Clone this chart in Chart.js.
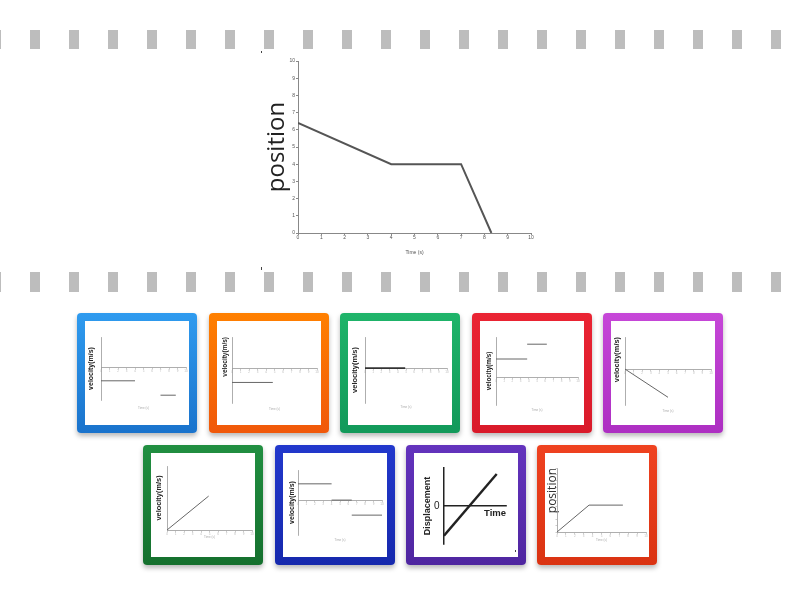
<!DOCTYPE html>
<html><head><meta charset="utf-8">
<script src="https://cdn.jsdelivr.net/npm/chart.js@4.4.1/dist/chart.umd.min.js"></script>
<style>
html,body{margin:0;padding:0;background:#fff;width:800px;height:600px;overflow:hidden;position:relative;}
.sq{position:absolute;width:10px;background:#bdbdbd;}
.tile{position:absolute;width:120px;height:120px;border-radius:4px;box-shadow:0 3px 5px rgba(0,0,0,0.28);}
.tile .inner{position:absolute;left:8px;top:8px;width:104px;height:104px;background:#fff;}
.tile canvas{position:absolute;left:0;top:0;}
.speck{position:absolute;width:1px;background:#444;}
</style></head><body>
<canvas id="main" width="290" height="225" style="position:absolute;left:255px;top:45px"></canvas>
<div class="speck" style="left:261px;top:51px;height:2px"></div>
<div class="speck" style="left:261px;top:267px;height:3px"></div>
<script>
// ---------- data ----------
const mainTimeS = [0, 4, 7, 8.3];
const mainPosition = [6.4, 4, 4, 0];
const mainXTicks = [0, 1, 2, 3, 4, 5, 6, 7, 8, 9, 10];
const mainYTicks = [0, 1, 2, 3, 4, 5, 6, 7, 8, 9, 10];
const miniXTicks = [0, 1, 2, 3, 4, 5, 6, 7, 8, 9, 10];
const miniPosTicks = [0, 1, 2, 3, 4, 5, 6, 7, 8, 9, 10];
const dispTicks = [0];

const tile1Time = [0, 4, 4, 7, 8.8];
const tile1Velocity = [-2.3, -2.3, null, -4.7, -4.7];
const tile2Time = [0, 4.8];
const tile2Velocity = [-2.3, -2.3];
const tile3Time = [0, 4.9];
const tile3Velocity = [0, 0];
const tile4Time = [0, 3.8, 3.8, 3.8, 6.2];
const tile4Velocity = [2.25, 2.25, null, 4.1, 4.1];
const tile5Time = [0, 5];
const tile5Velocity = [0, -4.4];
const tile6Time = [0, 4.9];
const tile6Velocity = [0, 5.3];
const tile7Time = [0, 4, 4, 4, 6.4, 6.4, 6.4, 10];
const tile7Velocity = [2.7, 2.7, null, 0, 0, null, -2.5, -2.5];
const tile8Time = [0, 8.5];
const tile8Displacement = [-3.9, 4.2];
const tile9Time = [0, 3.6, 7.4];
const tile9Position = [0, 4.2, 4.2];

const velLabel = 'velocity(m/s)';

// ---------- layout / style ----------
Chart.defaults.font.family = 'Liberation Sans';

for (let row = 0; row < 2; row++) {
  for (let x = -9; x < 800; x += 39) {
    const d = document.createElement('div');
    d.className = 'sq';
    d.style.left = x + 'px';
    d.style.top = (row === 0 ? 30 : 272) + 'px';
    d.style.height = (row === 0 ? 19 : 20) + 'px';
    document.body.appendChild(d);
  }
}

new Chart(document.getElementById('main'), {
  type: 'line',
  data: { datasets: [{
    data: mainTimeS.map((t, i) => ({ x: t, y: mainPosition[i] })),
    borderColor: '#555', borderWidth: 2, pointRadius: 0, tension: 0
  }]},
  options: {
    responsive: false, animation: false, events: [],
    layout: { padding: { left: 0, top: 16, right: 14, bottom: 0 } },
    plugins: { legend: { display: false }, tooltip: { enabled: false } },
    scales: {
      x: {
        type: 'linear', min: 0, max: 10,
        afterBuildTicks: s => { s.ticks = mainXTicks.map(v => ({ value: v })); },
        afterFit: s => { s.height = 37; },
        grid: { drawOnChartArea: false, tickLength: 2, color: '#888' },
        border: { color: '#888', width: 1 },
        ticks: { font: { size: 5 }, color: '#555', padding: 0, maxRotation: 0, autoSkip: false },
        title: { display: true, text: 'Time (s)', font: { size: 5 }, color: '#555', padding: { top: 0, bottom: 14 } }
      },
      y: {
        type: 'linear', min: 0, max: 10,
        afterBuildTicks: s => { s.ticks = mainYTicks.map(v => ({ value: v })); },
        afterFit: s => { s.width = 43; },
        grid: { drawOnChartArea: false, tickLength: 2, color: '#888' },
        border: { color: '#888', width: 1 },
        ticks: { font: { size: 5 }, color: '#555', padding: 1, autoSkip: false },
        title: { display: true, text: 'position', font: { family: 'Open Sans', size: 24 }, color: '#222', padding: { top: 8, bottom: 0 } }
      }
    }
  }
});

const tiles = [
  { x: 77, y: 313, c: ['#2f9bef', '#1a73cc'], axes: [101, 186, 337, 400], yr: [-5.5, 5], xs: tile1Time, ys: tile1Velocity,
    label: velLabel, lf: { size: 7, weight: 'bold' }, lx: 91, la: 'center', timeY: 408 },
  { x: 209, y: 313, c: ['#ff8000', '#f0580a'], axes: [232, 317, 337, 403], yr: [-5.6, 5], xs: tile2Time, ys: tile2Velocity,
    label: velLabel, lf: { size: 6.5, weight: 'bold' }, lx: 225, la: 'end', timeY: 409 },
  { x: 340, y: 313, c: ['#1fb46a', '#12995a'], axes: [365, 447, 337, 403], yr: [-5.6, 5], xs: tile3Time, ys: tile3Velocity,
    label: velLabel, lf: { size: 7.5, weight: 'bold' }, lx: 355, la: 'center', timeY: 407, lc: '#333', lw: 1.6 },
  { x: 472, y: 313, c: ['#ea2433', '#d91a2a'], axes: [496, 578, 337, 405], yr: [-3.5, 5], xs: tile4Time, ys: tile4Velocity,
    label: velLabel, lf: { size: 6.3, weight: 'bold' }, lx: 489, la: 'center', timeY: 410 },
  { x: 603, y: 313, c: ['#c647d8', '#ad2fc2'], axes: [625, 711, 337, 405], yr: [-5.6, 5], xs: tile5Time, ys: tile5Velocity,
    label: velLabel, lf: { size: 7.4, weight: 'bold' }, lx: 617, la: 'end', timeY: 411 },
  { x: 143, y: 445, c: ['#218f41', '#15702e'], axes: [167, 252, 466, 530], yr: [0, 10], xs: tile6Time, ys: tile6Velocity,
    label: velLabel, lf: { size: 7.4, weight: 'bold' }, lx: 159, la: 'center', timeY: 537 },
  { x: 275, y: 445, c: ['#2238cc', '#1629ad'], axes: [298, 382, 470, 535], yr: [-5.8, 5], xs: tile7Time, ys: tile7Velocity,
    label: velLabel, lf: { size: 7, weight: 'bold' }, lx: 292, la: 'center', timeY: 540 },
  { x: 406, y: 445, c: ['#6333bd', '#4f26a0'], axes: [444, 506, 468, 544], yr: [-5, 5], xs: tile8Time, ys: tile8Displacement,
    label: 'Displacement', lf: { family: 'Liberation Sans', size: 9, weight: 'bold' }, lx: 428, la: 'center',
    disp: true, lc: '#222', lw: 2.4 },
  { x: 537, y: 445, c: ['#ef4220', '#da3312'], axes: [557, 646, 468, 532], yr: [0, 10], xs: tile9Time, ys: tile9Position,
    label: 'position', lf: { family: 'Open Sans', size: 12 }, lx: 551, la: 'end', timeY: 540, yMarks: true, labelColor: '#333' }
];

tiles.forEach(t => {
  const tile = document.createElement('div');
  tile.className = 'tile';
  tile.style.left = t.x + 'px';
  tile.style.top = t.y + 'px';
  tile.style.background = 'linear-gradient(' + t.c[0] + ',' + t.c[1] + ')';
  const inner = document.createElement('div');
  inner.className = 'inner';
  const cv = document.createElement('canvas');
  cv.width = 104; cv.height = 104;
  inner.appendChild(cv); tile.appendChild(inner);
  document.body.appendChild(tile);

  const cl = t.x + 8, ct = t.y + 8, size = 104;
  const [L, R, T, B] = t.axes;
  const yW = L - cl, bottomH = ct + size - B;
  const lfs = t.lf.size, lh = lfs * 1.2;
  const tfs = 3, tlh = tfs * 1.2;
  const axisColor = t.disp ? '#222' : '#999';
  const axisWidth = t.disp ? 1.5 : 0.8;

  new Chart(cv, {
    type: 'line',
    data: { datasets: [{
      data: t.xs.map((v, i) => ({ x: v, y: t.ys[i] })),
      borderColor: t.lc || '#666', borderWidth: t.lw || 1, pointRadius: 0, tension: 0, spanGaps: false
    }]},
    options: {
      responsive: false, animation: false, events: [],
      layout: { padding: { left: 0, top: T - ct, right: cl + size - R, bottom: 0 } },
      plugins: { legend: { display: false }, tooltip: { enabled: false } },
      scales: {
        x: {
          type: 'linear', min: 0, max: 10, position: { y: t.yr[0] >= 0 ? t.yr[0] : 0 },
          afterBuildTicks: s => { s.ticks = miniXTicks.map(v => ({ value: v })); },
          grid: { display: !t.disp, drawOnChartArea: false, drawTicks: !t.disp, tickLength: 1.5, color: '#aaa', lineWidth: 0.6 },
          border: { display: true, color: axisColor, width: axisWidth },
          ticks: { display: !t.disp, font: { size: 3 }, color: '#bbb', padding: 0.5, maxRotation: 0, autoSkip: false },
          title: t.disp
            ? { display: true, text: 'Time', align: 'end', font: { family: 'Liberation Sans', size: 9.5, weight: 'bold' }, color: '#222', padding: { top: 2, bottom: 0 } }
            : { display: false }
        },
        x2: {
          type: 'linear', position: 'bottom', display: true,
          grid: { display: false, drawTicks: false }, border: { display: false }, ticks: { display: false },
          afterFit: s => { s.height = bottomH; },
          title: t.timeY
            ? { display: true, text: 'Time (s)', font: { size: tfs }, color: '#aaa', padding: { top: 0, bottom: ct + size - t.timeY - tlh / 2 } }
            : { display: false }
        },
        y: {
          type: 'linear', position: 'left', min: t.yr[0], max: t.yr[1],
          afterBuildTicks: s => {
            if (t.disp) s.ticks = dispTicks.map(v => ({ value: v }));
            else if (t.yMarks) s.ticks = miniPosTicks.map(v => ({ value: v }));
          },
          afterFit: s => { s.width = yW; },
          grid: { display: !!t.yMarks, drawOnChartArea: false, tickLength: 1.5, color: '#aaa', lineWidth: 0.6 },
          border: { display: true, color: axisColor, width: axisWidth },
          ticks: t.disp
            ? { display: true, font: { family: 'Liberation Sans', size: 10 }, color: '#222', padding: 3 }
            : { display: false },
          title: { display: true, text: t.label, font: t.lf, color: t.labelColor || '#222', align: t.la,
                   padding: { top: Math.max(0, t.lx - cl - lh / 2), bottom: 0 } }
        }
      }
    }
  });
});
</script>
<div class="speck" style="left:515px;top:550px;height:2px"></div>
</body></html>
